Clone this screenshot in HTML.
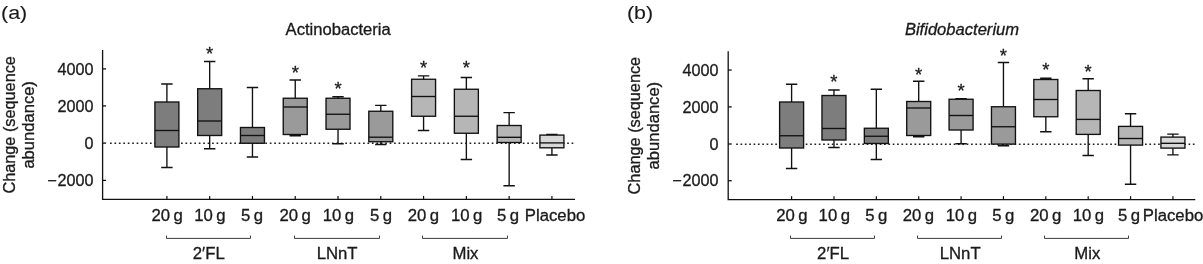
<!DOCTYPE html>
<html lang="en">
<head>
<meta charset="utf-8">
<title>Change in sequence abundance</title>
<style>
html,body{margin:0;padding:0;background:#fff;}
body{width:1203px;height:264px;overflow:hidden;font-family:"Liberation Sans",Arial,Helvetica,sans-serif;}
svg{display:block;}
</style>
</head>
<body>
<svg width="1203" height="264" viewBox="0 0 1203 264" font-family="'Liberation Sans', Arial, Helvetica, sans-serif" fill="#1a1a1a" stroke="#1a1a1a" stroke-width="0.3">
<g>
<text x="1" y="18.9" font-size="19.2" text-anchor="start" textLength="26.2" lengthAdjust="spacingAndGlyphs" stroke-width="0.1">(a)</text>
<text x="338.2" y="35.45" font-size="15.8" text-anchor="middle" textLength="105.2" lengthAdjust="spacingAndGlyphs">Actinobacteria</text>
<text transform="translate(14.9,124.85) rotate(-90)" font-size="15.7" text-anchor="middle" textLength="137.5" lengthAdjust="spacingAndGlyphs">Change (sequence</text>
<text transform="translate(34.1,124.85) rotate(-90)" font-size="15.7" text-anchor="middle" textLength="87.5" lengthAdjust="spacingAndGlyphs">abundance)</text>
<text transform="translate(93.5,74.5) scale(1.025,1)" font-size="15.8" text-anchor="end">4000</text>
<path d="M102.6 68.9h3.5" stroke="#111" stroke-width="1.3"/>
<text transform="translate(93.5,111.5) scale(1.025,1)" font-size="15.8" text-anchor="end">2000</text>
<path d="M102.6 105.9h3.5" stroke="#111" stroke-width="1.3"/>
<text transform="translate(93.5,148.7) scale(1.025,1)" font-size="15.8" text-anchor="end">0</text>
<path d="M102.6 143.1h3.5" stroke="#111" stroke-width="1.3"/>
<text transform="translate(93.5,186) scale(1.025,1)" font-size="15.8" text-anchor="end">−<tspan dx="0.8">2000</tspan></text>
<path d="M102.6 180.4h3.5" stroke="#111" stroke-width="1.3"/>
<path d="M110 143.3H575" stroke="#222" stroke-width="1.4" stroke-dasharray="1.7 2.7387"/>
<path d="M166.9 84V167.5M161.2 84h11.4M161.2 167.5h11.4" stroke="#111" stroke-width="1.35" fill="none"/>
<rect x="154.9" y="102" width="24" height="45" fill="#7d7d7d" stroke="#111" stroke-width="1.35"/>
<path d="M154.9 130.5h24" stroke="#111" stroke-width="1.35" fill="none"/>
<path d="M209.68 61.5V148.75M203.98 61.5h11.4M203.98 148.75h11.4" stroke="#111" stroke-width="1.35" fill="none"/>
<rect x="197.68" y="88.75" width="24" height="46.75" fill="#7d7d7d" stroke="#111" stroke-width="1.35"/>
<path d="M197.68 121h24" stroke="#111" stroke-width="1.35" fill="none"/>
<path d="M252.46 87.5V157M246.76 87.5h11.4M246.76 157h11.4" stroke="#111" stroke-width="1.35" fill="none"/>
<rect x="240.46" y="127.5" width="24" height="15.75" fill="#7d7d7d" stroke="#111" stroke-width="1.35"/>
<path d="M240.46 135.5h24" stroke="#111" stroke-width="1.35" fill="none"/>
<path d="M295.24 80V135.75M289.54 80h11.4M289.54 135.75h11.4" stroke="#111" stroke-width="1.35" fill="none"/>
<rect x="283.24" y="98.25" width="24" height="36.25" fill="#9a9a9a" stroke="#111" stroke-width="1.35"/>
<path d="M283.24 107h24" stroke="#111" stroke-width="1.35" fill="none"/>
<path d="M338.02 96.75V143.75M332.32 96.75h11.4M332.32 143.75h11.4" stroke="#111" stroke-width="1.35" fill="none"/>
<rect x="326.02" y="98.25" width="24" height="31" fill="#9a9a9a" stroke="#111" stroke-width="1.35"/>
<path d="M326.02 114.25h24" stroke="#111" stroke-width="1.35" fill="none"/>
<path d="M380.8 105.3V144.5M375.1 105.3h11.4M375.1 144.5h11.4" stroke="#111" stroke-width="1.35" fill="none"/>
<rect x="368.8" y="111.25" width="24" height="30.5" fill="#9a9a9a" stroke="#111" stroke-width="1.35"/>
<path d="M368.8 137.2h24" stroke="#111" stroke-width="1.35" fill="none"/>
<path d="M423.58 75.9V130.5M417.88 75.9h11.4M417.88 130.5h11.4" stroke="#111" stroke-width="1.35" fill="none"/>
<rect x="411.58" y="79.25" width="24" height="37" fill="#b6b6b6" stroke="#111" stroke-width="1.35"/>
<path d="M411.58 96.5h24" stroke="#111" stroke-width="1.35" fill="none"/>
<path d="M466.36 77.5V159.5M460.66 77.5h11.4M460.66 159.5h11.4" stroke="#111" stroke-width="1.35" fill="none"/>
<rect x="454.36" y="89.25" width="24" height="44" fill="#b6b6b6" stroke="#111" stroke-width="1.35"/>
<path d="M454.36 116.25h24" stroke="#111" stroke-width="1.35" fill="none"/>
<path d="M509.14 112.6V185.75M503.44 112.6h11.4M503.44 185.75h11.4" stroke="#111" stroke-width="1.35" fill="none"/>
<rect x="497.14" y="125.5" width="24" height="17" fill="#b6b6b6" stroke="#111" stroke-width="1.35"/>
<path d="M497.14 137.3h24" stroke="#111" stroke-width="1.35" fill="none"/>
<path d="M551.92 134.3V155M546.22 134.3h11.4M546.22 155h11.4" stroke="#111" stroke-width="1.35" fill="none"/>
<rect x="539.92" y="135.1" width="24" height="12.7" fill="#d8d8d8" stroke="#111" stroke-width="1.35"/>
<path d="M539.92 142.9h24" stroke="#111" stroke-width="1.35" fill="none"/>
<path d="M102.6 50V199.3H575" stroke="#111" stroke-width="1.3" fill="none"/>
<path d="M166.9 199.3v-3.4" stroke="#111" stroke-width="1.2"/>
<path d="M209.68 199.3v-3.4" stroke="#111" stroke-width="1.2"/>
<path d="M252.46 199.3v-3.4" stroke="#111" stroke-width="1.2"/>
<path d="M295.24 199.3v-3.4" stroke="#111" stroke-width="1.2"/>
<path d="M338.02 199.3v-3.4" stroke="#111" stroke-width="1.2"/>
<path d="M380.8 199.3v-3.4" stroke="#111" stroke-width="1.2"/>
<path d="M423.58 199.3v-3.4" stroke="#111" stroke-width="1.2"/>
<path d="M466.36 199.3v-3.4" stroke="#111" stroke-width="1.2"/>
<path d="M509.14 199.3v-3.4" stroke="#111" stroke-width="1.2"/>
<path d="M551.92 199.3v-3.4" stroke="#111" stroke-width="1.2"/>
<text x="209.68" y="60.1" font-size="18.5" text-anchor="middle">*</text>
<text x="295.24" y="79.1" font-size="18.5" text-anchor="middle">*</text>
<text x="338.02" y="94.85" font-size="18.5" text-anchor="middle">*</text>
<text x="423.58" y="73.6" font-size="18.5" text-anchor="middle">*</text>
<text x="466.36" y="73.6" font-size="18.5" text-anchor="middle">*</text>
<text transform="translate(167.2,221.1) scale(1.06,1)" font-size="15.8" text-anchor="middle">20 <tspan dx="-1.15">g</tspan></text>
<text transform="translate(209.98,221.1) scale(1.06,1)" font-size="15.8" text-anchor="middle">10 <tspan dx="-1.15">g</tspan></text>
<text transform="translate(252.06,221.1) scale(1.06,1)" font-size="15.8" text-anchor="middle">5 <tspan dx="-1.15">g</tspan></text>
<text transform="translate(295.14,221.1) scale(1.06,1)" font-size="15.8" text-anchor="middle">20 <tspan dx="-1.15">g</tspan></text>
<text transform="translate(338.32,221.1) scale(1.06,1)" font-size="15.8" text-anchor="middle">10 <tspan dx="-1.15">g</tspan></text>
<text transform="translate(381.1,221.1) scale(1.06,1)" font-size="15.8" text-anchor="middle">5 <tspan dx="-1.15">g</tspan></text>
<text transform="translate(423.38,221.1) scale(1.06,1)" font-size="15.8" text-anchor="middle">20 <tspan dx="-1.15">g</tspan></text>
<text transform="translate(466.66,221.1) scale(1.06,1)" font-size="15.8" text-anchor="middle">10 <tspan dx="-1.15">g</tspan></text>
<text transform="translate(508.14,221.1) scale(1.06,1)" font-size="15.8" text-anchor="middle">5 <tspan dx="-1.15">g</tspan></text>
<text transform="translate(555.02,221.1) scale(1.06,1)" font-size="15.8" text-anchor="middle">Placebo</text>
<path d="M166.5 235.6V238.4H250.5V235.6" stroke="#3c3c3c" stroke-width="1" fill="none"/>
<text transform="translate(208.78,258.7) scale(1.06,1)" font-size="15.8" text-anchor="middle">2′FL</text>
<path d="M294.5 235.6V238.4H379.5V235.6" stroke="#3c3c3c" stroke-width="1" fill="none"/>
<text transform="translate(337.12,258.7) scale(1.06,1)" font-size="15.8" text-anchor="middle">LNnT</text>
<path d="M422.5 235.6V238.4H507.5V235.6" stroke="#3c3c3c" stroke-width="1" fill="none"/>
<text transform="translate(465.46,258.7) scale(1.06,1)" font-size="15.8" text-anchor="middle">Mix</text>
</g>
<g>
<text x="626.9" y="18.9" font-size="19.2" text-anchor="start" textLength="26.2" lengthAdjust="spacingAndGlyphs" stroke-width="0.1">(b)</text>
<text x="962" y="35.45" font-size="15.8" text-anchor="middle" textLength="114.2" lengthAdjust="spacingAndGlyphs" font-style="italic">Bifidobacterium</text>
<text transform="translate(639.9,125.63) rotate(-90)" font-size="15.7" text-anchor="middle" textLength="137.5" lengthAdjust="spacingAndGlyphs">Change (sequence</text>
<text transform="translate(659.1,125.63) rotate(-90)" font-size="15.7" text-anchor="middle" textLength="87.5" lengthAdjust="spacingAndGlyphs">abundance)</text>
<text transform="translate(718.5,75.65) scale(1.025,1)" font-size="15.8" text-anchor="end">4000</text>
<path d="M728.2 70.05h3.5" stroke="#111" stroke-width="1.3"/>
<text transform="translate(718.5,112.5) scale(1.025,1)" font-size="15.8" text-anchor="end">2000</text>
<path d="M728.2 106.9h3.5" stroke="#111" stroke-width="1.3"/>
<text transform="translate(718.5,149.6) scale(1.025,1)" font-size="15.8" text-anchor="end">0</text>
<path d="M728.2 144h3.5" stroke="#111" stroke-width="1.3"/>
<text transform="translate(718.5,186.35) scale(1.025,1)" font-size="15.8" text-anchor="end">−<tspan dx="0.8">2000</tspan></text>
<path d="M728.2 180.75h3.5" stroke="#111" stroke-width="1.3"/>
<path d="M736.15 144.2H1195.3" stroke="#222" stroke-width="1.4" stroke-dasharray="1.7 2.6495"/>
<path d="M791.6 84.25V168.5M785.9 84.25h11.4M785.9 168.5h11.4" stroke="#111" stroke-width="1.35" fill="none"/>
<rect x="779.6" y="102" width="24" height="46" fill="#7d7d7d" stroke="#111" stroke-width="1.35"/>
<path d="M779.6 135.75h24" stroke="#111" stroke-width="1.35" fill="none"/>
<path d="M833.97 90V147.5M828.27 90h11.4M828.27 147.5h11.4" stroke="#111" stroke-width="1.35" fill="none"/>
<rect x="821.97" y="95.5" width="24" height="44.5" fill="#7d7d7d" stroke="#111" stroke-width="1.35"/>
<path d="M821.97 128.5h24" stroke="#111" stroke-width="1.35" fill="none"/>
<path d="M876.34 89.25V159.5M870.64 89.25h11.4M870.64 159.5h11.4" stroke="#111" stroke-width="1.35" fill="none"/>
<rect x="864.34" y="128.25" width="24" height="15.25" fill="#7d7d7d" stroke="#111" stroke-width="1.35"/>
<path d="M864.34 136.25h24" stroke="#111" stroke-width="1.35" fill="none"/>
<path d="M918.71 81.25V136.75M913.01 81.25h11.4M913.01 136.75h11.4" stroke="#111" stroke-width="1.35" fill="none"/>
<rect x="906.71" y="101.5" width="24" height="34" fill="#9a9a9a" stroke="#111" stroke-width="1.35"/>
<path d="M906.71 108h24" stroke="#111" stroke-width="1.35" fill="none"/>
<path d="M961.08 98.75V143.75M955.38 98.75h11.4M955.38 143.75h11.4" stroke="#111" stroke-width="1.35" fill="none"/>
<rect x="949.08" y="99.25" width="24" height="30.75" fill="#9a9a9a" stroke="#111" stroke-width="1.35"/>
<path d="M949.08 115.5h24" stroke="#111" stroke-width="1.35" fill="none"/>
<path d="M1003.45 62.5V145.75M997.75 62.5h11.4M997.75 145.75h11.4" stroke="#111" stroke-width="1.35" fill="none"/>
<rect x="991.45" y="106.75" width="24" height="37.35" fill="#9a9a9a" stroke="#111" stroke-width="1.35"/>
<path d="M991.45 126.75h24" stroke="#111" stroke-width="1.35" fill="none"/>
<path d="M1045.82 78.25V131.75M1040.12 78.25h11.4M1040.12 131.75h11.4" stroke="#111" stroke-width="1.35" fill="none"/>
<rect x="1033.82" y="79.5" width="24" height="37.25" fill="#b6b6b6" stroke="#111" stroke-width="1.35"/>
<path d="M1033.82 99.5h24" stroke="#111" stroke-width="1.35" fill="none"/>
<path d="M1088.19 78.75V155.5M1082.49 78.75h11.4M1082.49 155.5h11.4" stroke="#111" stroke-width="1.35" fill="none"/>
<rect x="1076.19" y="90.5" width="24" height="43.9" fill="#b6b6b6" stroke="#111" stroke-width="1.35"/>
<path d="M1076.19 119.4h24" stroke="#111" stroke-width="1.35" fill="none"/>
<path d="M1130.56 113.75V184.25M1124.86 113.75h11.4M1124.86 184.25h11.4" stroke="#111" stroke-width="1.35" fill="none"/>
<rect x="1118.56" y="126.4" width="24" height="18.7" fill="#b6b6b6" stroke="#111" stroke-width="1.35"/>
<path d="M1118.56 138.5h24" stroke="#111" stroke-width="1.35" fill="none"/>
<path d="M1172.93 134.1V154.8M1167.23 134.1h11.4M1167.23 154.8h11.4" stroke="#111" stroke-width="1.35" fill="none"/>
<rect x="1160.93" y="137.1" width="24" height="11" fill="#d8d8d8" stroke="#111" stroke-width="1.35"/>
<path d="M1160.93 143.3h24" stroke="#111" stroke-width="1.35" fill="none"/>
<path d="M728.2 51.3V199.55H1195.3" stroke="#111" stroke-width="1.3" fill="none"/>
<path d="M791.6 199.55v-3.4" stroke="#111" stroke-width="1.2"/>
<path d="M833.97 199.55v-3.4" stroke="#111" stroke-width="1.2"/>
<path d="M876.34 199.55v-3.4" stroke="#111" stroke-width="1.2"/>
<path d="M918.71 199.55v-3.4" stroke="#111" stroke-width="1.2"/>
<path d="M961.08 199.55v-3.4" stroke="#111" stroke-width="1.2"/>
<path d="M1003.45 199.55v-3.4" stroke="#111" stroke-width="1.2"/>
<path d="M1045.82 199.55v-3.4" stroke="#111" stroke-width="1.2"/>
<path d="M1088.19 199.55v-3.4" stroke="#111" stroke-width="1.2"/>
<path d="M1130.56 199.55v-3.4" stroke="#111" stroke-width="1.2"/>
<path d="M1172.93 199.55v-3.4" stroke="#111" stroke-width="1.2"/>
<text x="833.97" y="87.85" font-size="18.5" text-anchor="middle">*</text>
<text x="918.71" y="80.85" font-size="18.5" text-anchor="middle">*</text>
<text x="961.08" y="96.6" font-size="18.5" text-anchor="middle">*</text>
<text x="1003.45" y="61.6" font-size="18.5" text-anchor="middle">*</text>
<text x="1045.82" y="75.85" font-size="18.5" text-anchor="middle">*</text>
<text x="1088.19" y="78.35" font-size="18.5" text-anchor="middle">*</text>
<text transform="translate(791.9,221.1) scale(1.06,1)" font-size="15.8" text-anchor="middle">20 <tspan dx="-1.15">g</tspan></text>
<text transform="translate(834.27,221.1) scale(1.06,1)" font-size="15.8" text-anchor="middle">10 <tspan dx="-1.15">g</tspan></text>
<text transform="translate(876.24,221.1) scale(1.06,1)" font-size="15.8" text-anchor="middle">5 <tspan dx="-1.15">g</tspan></text>
<text transform="translate(918.41,221.1) scale(1.06,1)" font-size="15.8" text-anchor="middle">20 <tspan dx="-1.15">g</tspan></text>
<text transform="translate(961.38,221.1) scale(1.06,1)" font-size="15.8" text-anchor="middle">10 <tspan dx="-1.15">g</tspan></text>
<text transform="translate(1003.35,221.1) scale(1.06,1)" font-size="15.8" text-anchor="middle">5 <tspan dx="-1.15">g</tspan></text>
<text transform="translate(1045.72,221.1) scale(1.06,1)" font-size="15.8" text-anchor="middle">20 <tspan dx="-1.15">g</tspan></text>
<text transform="translate(1088.49,221.1) scale(1.06,1)" font-size="15.8" text-anchor="middle">10 <tspan dx="-1.15">g</tspan></text>
<text transform="translate(1129.06,221.1) scale(1.06,1)" font-size="15.8" text-anchor="middle">5 <tspan dx="-1.15">g</tspan></text>
<text transform="translate(1173.03,221.1) scale(1.06,1)" font-size="15.8" text-anchor="middle">Placebo</text>
<path d="M790.5 235.6V238.4H874.5V235.6" stroke="#3c3c3c" stroke-width="1" fill="none"/>
<text transform="translate(833.07,258.7) scale(1.06,1)" font-size="15.8" text-anchor="middle">2′FL</text>
<path d="M917.5 235.6V238.4H1001.5V235.6" stroke="#3c3c3c" stroke-width="1" fill="none"/>
<text transform="translate(960.18,258.7) scale(1.06,1)" font-size="15.8" text-anchor="middle">LNnT</text>
<path d="M1044.5 235.6V238.4H1128.5V235.6" stroke="#3c3c3c" stroke-width="1" fill="none"/>
<text transform="translate(1087.29,258.7) scale(1.06,1)" font-size="15.8" text-anchor="middle">Mix</text>
</g>
</svg>
</body>
</html>
